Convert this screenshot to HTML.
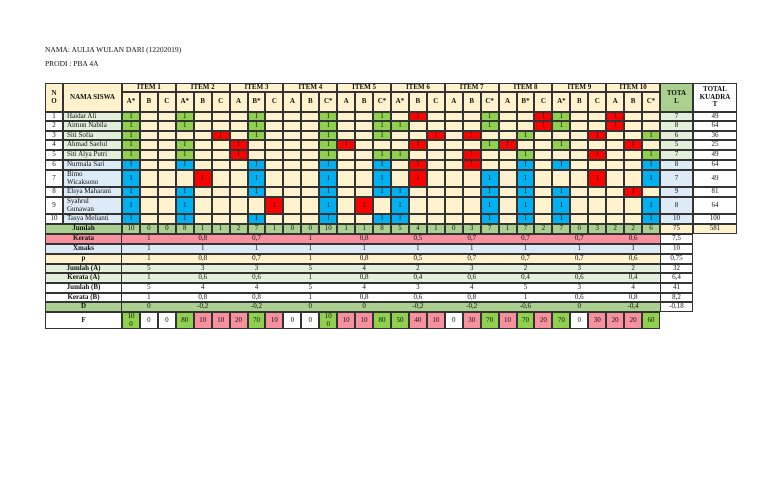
<!DOCTYPE html>
<html><head><meta charset="utf-8">
<style>
body{margin:0;background:#fff;width:768px;height:497px;position:relative;overflow:hidden;font-family:"Liberation Serif",serif;}
.c{position:absolute;box-sizing:border-box;border:0.8px solid #333;display:flex;align-items:center;justify-content:center;font-size:7px;line-height:7.5px;color:#111;text-align:center;overflow:hidden;white-space:pre-line;}
.b{font-weight:bold;}
.t{position:absolute;font-size:7.5px;color:#111;}
</style></head><body>
<div class="t" style="left:45px;top:45px;">NAMA: AULIA WULAN DARI (12202019)</div>
<div class="t" style="left:45px;top:59px;">PRODI : PBA 4A</div>
<div id="tbl"></div>
<script>
const items=["ITEM 1","ITEM 2","ITEM 3","ITEM 4","ITEM 5","ITEM 6","ITEM 7","ITEM 8","ITEM 9","ITEM 10"];
const options=["A*","B","C","A*","B","C","A","B*","C","A","B","C*","A","B","C*","A*","B","C","A","B","C*","A","B*","C","A*","B","C","A","B","C*"];
const students=["Haidar Ali","Aimun Nabila","Siti Sofia","Ahmad Saeful","Siti Alya Putri","Nurmala Sari","Bimo\nWicaksono","Elsya Maharani","Syahrul\nGunawan","Tasya Melianti"];
const answers=[[0,3,7,11,14,16,20,23,24,27],[0,3,7,11,14,15,20,23,24,27],[0,5,7,11,14,17,19,22,26,29],[0,3,6,11,12,16,20,21,24,28],[0,3,6,11,14,15,19,22,26,29],[0,3,7,11,14,16,19,22,24,29],[0,4,7,11,14,16,20,22,26,29],[0,3,7,11,14,15,20,22,24,28],[0,3,8,11,13,15,20,22,24,29],[0,3,7,11,14,15,20,22,24,29]];
const totals=[7,8,6,5,7,8,7,9,8,10];
const squares=[49,64,36,25,49,64,49,81,64,100];
const jumlah=[10,0,0,8,1,1,2,7,1,0,0,10,1,1,8,5,4,1,0,3,7,1,7,2,7,0,3,2,2,6];
const statLabels=["Kerata","Xmaks","p","Jumlah (A)","Kerata (A)","Jumlah (B)","Kerata (B)","D"];
const statVals=[["1","0,8","0,7","1","0,8","0,5","0,7","0,7","0,7","0,6","7,5"],["1","1","1","1","1","1","1","1","1","1","10"],["1","0,8","0,7","1","0,8","0,5","0,7","0,7","0,7","0,6","0,75"],["5","3","3","5","4","2","3","2","3","2","32"],["1","0,6","0,6","1","0,8","0,4","0,6","0,4","0,6","0,4","6,4"],["5","4","4","5","4","3","4","5","3","4","41"],["1","0,8","0,8","1","0,8","0,6","0,8","1","0,6","0,8","8,2"],["0","-0,2","-0,2","0","0","-0,2","-0,2","-0,6","0","-0,4","-0,18"]];
const fVals=[100,0,0,80,10,10,20,70,10,0,0,100,10,10,80,50,40,10,0,30,70,10,70,20,70,0,30,20,20,60];
const statBg=["#f7909f","#ddebf7","#fff2cc","#e2efda","#e2efda","#fff","#fff","#a9d08e"];

const X0=45,XN=63,XA=122,CW=(660-122)/30,XT=660,XK=693,XE=737;
const rowTops=[112,121,131,140,150,160,170,187,197,214,224];
const statTops=[234,244,254,264,273,283,293,302,312];
const root=document.getElementById('tbl');
function cell(x,y,w,h,txt,bg,cls,name){
  const d=document.createElement('div');
  d.className='c '+(cls||'');
  d.style.left=x+'px';d.style.top=y+'px';d.style.width=w+'px';d.style.height=h+'px';
  d.style.background=bg||'transparent';
  d.textContent=txt;
  
  
  root.appendChild(d);return d;
}
const cream="#fff2cc";
cell(X0,83,XN-X0,29,"N\nO",cream,'b',"no-header");
cell(XN,83,XA-XN,29,"NAMA SISWA",cream,'b',"nama-siswa-header");
items.forEach((it,i)=>{cell(XA+i*3*CW,83,3*CW,9,it,cream,'b',"item-header")});
options.forEach((o,i)=>{cell(XA+i*CW,92,CW,20,o,cream,'b',"option-header")});
cell(XT,83,XK-XT,29,"TOTA\nL","#a9d08e",'b',"total-header");
cell(XK,83,XE-XK,29,"TOTAL\nKUADRA\nT","#fff",'b',"total-kuadrat-header");
students.forEach((s,r)=>{
  const y=rowTops[r],h=rowTops[r+1]-y;
  const bgN=r<5?"#e2efda":"#ddebf7";
  cell(X0,y,XN-X0,h,String(r+1),"#fff",'',"row-number");
  const n=cell(XN,y,XA-XN,h,s,bgN,'',"student-name");n.style.justifyContent='flex-start';n.style.textAlign='left';n.style.paddingLeft='3px';
  for(let i=0;i<30;i++){
    const has=answers[r].includes(i);
    let bg=cream;
    if(has){bg=options[i].includes('*')?(r<5?"#8fd14f":"#00b0f0"):"#ff0000";}
    cell(XA+i*CW,y,CW,h,has?"1":"",bg,'',"answer-cell");
  }
  cell(XT,y,XK-XT,h,String(totals[r]),bgN,'',"student-total");
  cell(XK,y,XE-XK,h,String(squares[r]),"#fff",'',"student-total-squared");
});
cell(X0,224,XA-X0,10,"Jumlah","#a9d08e",'b',"jumlah-label");
jumlah.forEach((v,i)=>cell(XA+i*CW,224,CW,10,String(v),"#a9d08e",'',"jumlah-cell"));
cell(XT,224,XK-XT,10,"75",cream,'',"jumlah-total");
cell(XK,224,XE-XK,10,"581",cream,'',"jumlah-kuadrat");
statLabels.forEach((lab,r)=>{
  const y=statTops[r],h=statTops[r+1]-y;
  cell(X0,y,XA-X0,h,lab,statBg[r],'b',"stat-label");
  for(let i=0;i<10;i++){
    const d=cell(XA+i*3*CW,y,3*CW,h,statVals[r][i],statBg[r],'',"stat-cell");
    d.style.borderLeft='none';d.style.borderRight='none';
  }
  cell(XT,y,XK-XT,h,statVals[r][10],"#fff",'',"stat-total");
});
cell(X0,312,XA-X0,17,"F","#fff",'b',"f-label");
fVals.forEach((v,i)=>{
  const key=options[i].includes('*');
  const bg=key?"#8fd14f":(v===0?"#fff":"#f7909f");
  const d=cell(XA+i*CW,312,CW,17,String(v),bg,'',"f-cell");
  if(v>=100){d.style.padding='0 3px';d.style.wordBreak='break-all';}
});
</script>
</body></html>
